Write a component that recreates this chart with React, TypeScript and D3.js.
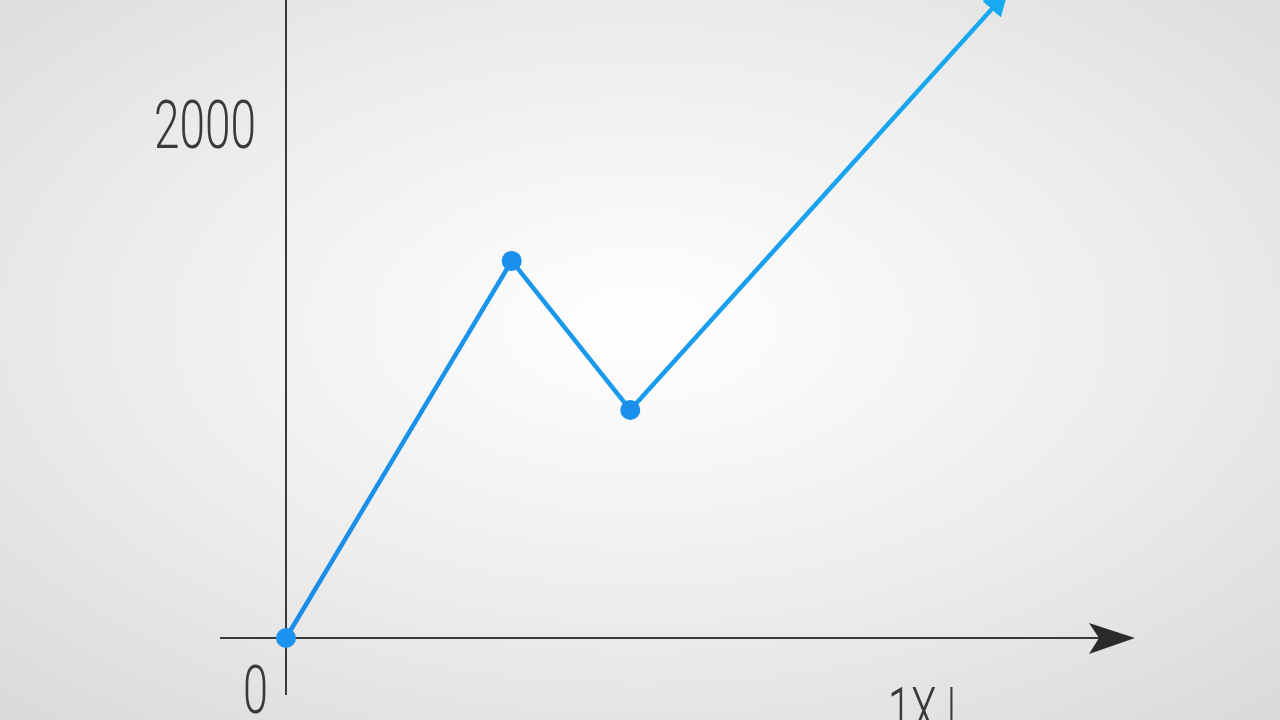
import React from "react";
import * as d3 from "d3";

const xValues = [0, 0.356, 0.543, 1.126];
const yValues = [0, 1470, 889, 2487];
const markedPoints = [0, 1, 2];
const yTickLabel = "2000";
const yTickValue = 2000;
const originLabel = "0";
const xTickLabel = "1X |";
const xTickValue = 1;

const W = 1280;
const H = 720;

export default function App() {
  const x = d3.scaleLinear().domain([0, 1]).range([286, 920]);
  const y = d3.scaleLinear().domain([0, 2000]).range([638, 125]);
  const data = xValues.map((v, i) => ({ x: v, y: yValues[i] }));
  const line = d3
    .line<{ x: number; y: number }>()
    .x((d) => x(d.x))
    .y((d) => y(d.y));
  const x0 = x(0);
  const y0 = y(0);
  const font = "Roboto, 'Open Sans', sans-serif";
  return (
    <svg
      width={W}
      height={H}
      style={{ position: "absolute", left: 0, top: 0, display: "block" }}
    >
      <defs>
        <radialGradient id="bg" cx="0.5" cy="0.45" r="0.75">
          <stop offset="0" stopColor="#ffffff" />
          <stop offset="0.55" stopColor="#ececec" />
          <stop offset="1" stopColor="#d9d9d9" />
        </radialGradient>
        <linearGradient id="lineGrad" x1="0" y1="0" x2="1" y2="0" gradientUnits="objectBoundingBox">
          <stop offset="0" stopColor="#1b8ce8" />
          <stop offset="1" stopColor="#18aaf0" />
        </linearGradient>
        <marker
          id="arrowBlue"
          viewBox="0 0 10 10"
          refX="5"
          refY="5"
          markerWidth="5.5"
          markerHeight="5.5"
          orient="auto"
          markerUnits="strokeWidth"
        >
          <path d="M0,0 L10,5 L0,10 Z" fill="#18aaf0" />
        </marker>
      </defs>
      <rect x={0} y={0} width={W} height={H} fill="url(#bg)" />

      {/* axes */}
      <line x1={x0} x2={x0} y1={0} y2={695} stroke="#3a3a3a" strokeWidth={2} />
      <line x1={220} x2={1100} y1={y0} y2={y0} stroke="#3a3a3a" strokeWidth={2} />
      <path
        d={`M1135,${y0} L1089,${y0 - 15} L1099,${y0} L1089,${y0 + 16} Z`}
        fill="#2b2b2b"
      />

      {/* labels */}
      <text
        x={256}
        y={y(yTickValue) + 23}
        textAnchor="end"
        fontFamily={font}
        fontWeight={300}
        fontSize={66}
        fill="#3a3a3a"
        textLength={102}
        lengthAdjust="spacingAndGlyphs"
      >
        {yTickLabel}
      </text>
      <text
        x={243}
        y={713}
        fontFamily={font}
        fontWeight={300}
        fontSize={66}
        fill="#3a3a3a"
        textLength={25}
        lengthAdjust="spacingAndGlyphs"
      >
        {originLabel}
      </text>
      <text
        x={x(xTickValue) - 32}
        y={735}
        fontFamily={font}
        fontWeight={300}
        fontSize={66}
        fill="#3a3a3a"
        textLength={68}
        lengthAdjust="spacingAndGlyphs"
      >
        {xTickLabel}
      </text>

      {/* series */}
      <path
        d={line(data) || ""}
        fill="none"
        stroke="url(#lineGrad)"
        strokeWidth={4.5}
        strokeLinejoin="round"
        markerEnd="url(#arrowBlue)"
      />
      {markedPoints.map((i) => (
        <circle
          key={i}
          cx={x(xValues[i])}
          cy={y(yValues[i])}
          r={10}
          fill={i === 0 ? "#1b92ef" : "#1a8fec"}
        />
      ))}
    </svg>
  );
}
